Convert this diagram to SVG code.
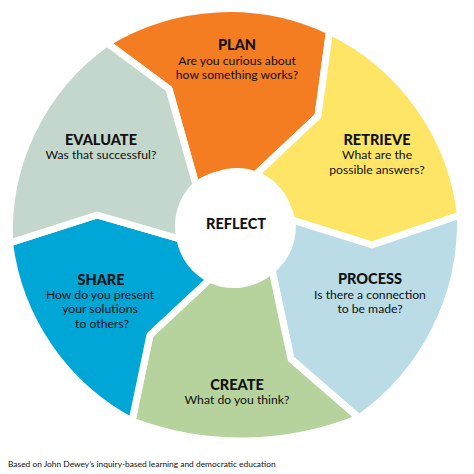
<svg xmlns="http://www.w3.org/2000/svg" width="474" height="474" viewBox="0 0 474 474">
<style>
.seg{stroke:#fff;stroke-width:7;stroke-linejoin:round}
.t{font-family:Lato,"Open Sans","DejaVu Sans",sans-serif;font-weight:900;font-size:14.5px;fill:#111;text-anchor:middle}
.s{font-family:Lato,"Open Sans","DejaVu Sans",sans-serif;font-size:12.2px;fill:#111;text-anchor:middle}
.f{font-family:Lato,"Open Sans","DejaVu Sans",sans-serif;font-size:8.4px;fill:#111}
</style>
<rect width="474" height="474" fill="#fff"/>
<g id="plan">
<path class="seg" fill="#F47D22" d="M196,185 L169,89 L107,43 A235 235 0 0 1 329.5,31 L318,116 L252,178 A56 56 0 0 0 196,185 Z"/>
<text class="t" x="237" y="50">PLAN</text>
<text class="s" x="237" y="65">Are you curious about</text>
<text class="s" x="237" y="79">how something works?</text>
</g>
<g id="retrieve">
<path class="seg" fill="#FEE566" d="M252,178 L318,116 L329.5,31 A235 235 0 0 1 460.5,215 L372,245 L292,220 A56 56 0 0 0 252,178 Z"/>
<text class="t" x="377" y="145">RETRIEVE</text>
<text class="s" x="377" y="159">What are the</text>
<text class="s" x="377" y="174">possible answers?</text>
</g>
<g id="process">
<path class="seg" fill="#BADCE6" d="M292,220 L372,245 L460.5,215 A240 240 0 0 1 359,418 L291,359 L272,270 A56 56 0 0 0 292,220 Z"/>
<text class="t" x="370" y="284">PROCESS</text>
<text class="s" x="370" y="299">Is there a connection</text>
<text class="s" x="370" y="313">to be made?</text>
</g>
<g id="create">
<path class="seg" fill="#B6D39E" d="M272,270 L291,359 L359,418 A310 310 0 0 1 132,421 L150,335 L210,279 A56 56 0 0 0 272,270 Z"/>
<text class="t" x="237" y="390">CREATE</text>
<text class="s" x="237" y="404">What do you think?</text>
</g>
<g id="share">
<path class="seg" fill="#00A6D6" d="M210,279 L150,335 L132,421 A235 235 0 0 1 9.5,243 L97,215 L180,239 A56 56 0 0 0 210,279 Z"/>
<text class="t" x="101" y="285">SHARE</text>
<text class="s" x="100" y="299">How do you present</text>
<text class="s" x="100" y="313">your solutions</text>
<text class="s" x="102" y="328">to others?</text>
</g>
<g id="evaluate">
<path class="seg" fill="#C3D7CC" d="M180,239 L97,215 L9.5,243 A232 232 0 0 1 107,43 L169,89 L196,185 A56 56 0 0 0 180,239 Z"/>
<text class="t" x="101" y="145">EVALUATE</text>
<text class="s" x="101" y="159">Was that successful?</text>
</g>
<g id="reflect">
<circle cx="237" cy="225" r="57" fill="#fff"/>
<text class="t" x="236" y="229">REFLECT</text>
</g>
<g id="connectors"></g>
<text class="f" x="8" y="467">Based on John Dewey’s inquiry-based learning and democratic education</text>
</svg>
